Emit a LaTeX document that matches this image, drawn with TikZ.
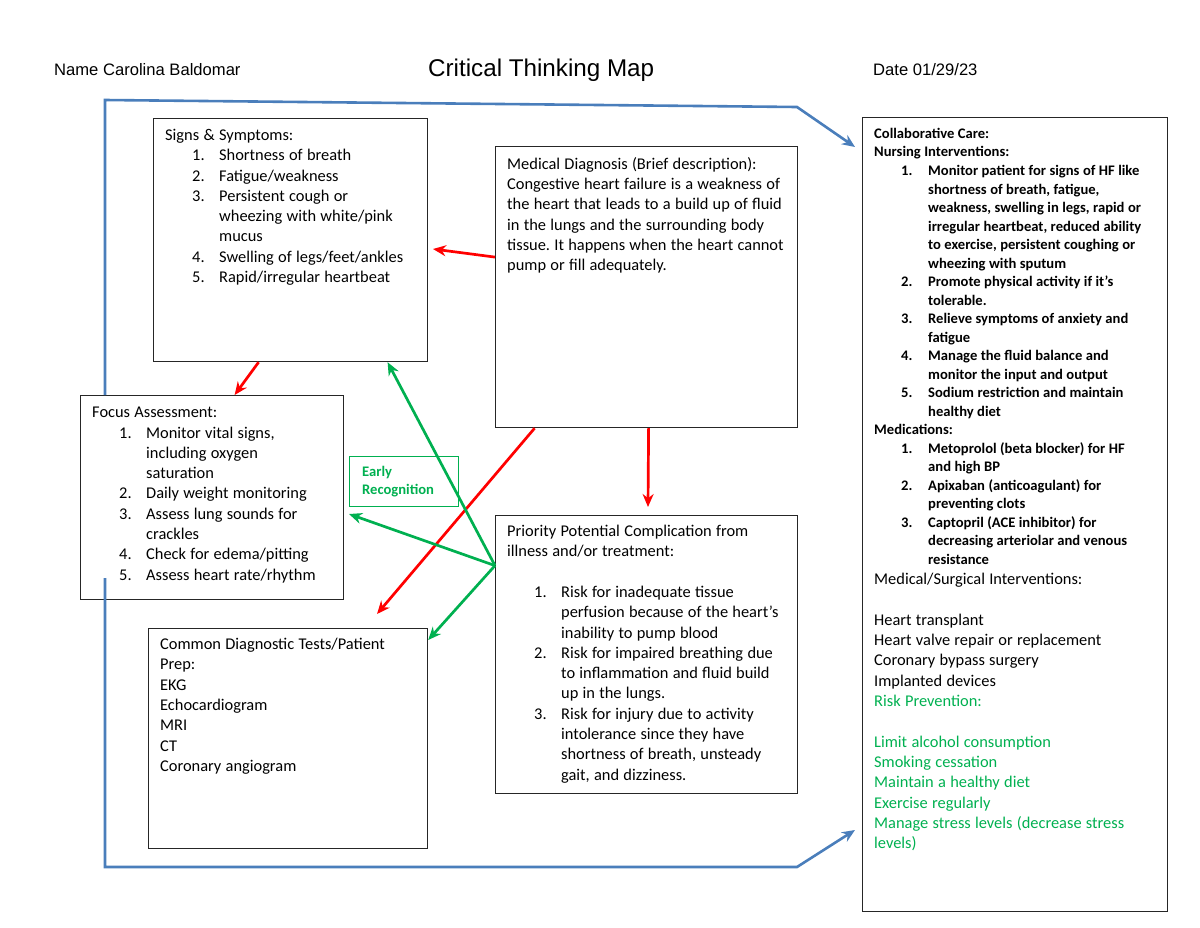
\documentclass[tikz,border=0pt]{standalone}
\usepackage{fontspec}
\setmainfont{Carlito}
\newfontfamily\headfont{Liberation Sans}
\usetikzlibrary{arrows.meta,positioning}
\definecolor{mapgreen}{HTML}{00B050}
\definecolor{mapblue}{HTML}{4A7EBB}
\newcommand{\mapfont}{\frenchspacing\fontsize{16.4}{20.3}\selectfont\spaceskip=4.3pt}
\newcommand{\carefont}{\fontsize{14.6}{18.52}\selectfont\bfseries\spaceskip=3.45pt}
\newcommand{\mapitem}[2]{\par\begingroup\let\\\newline\hangindent=54pt\hangafter=0\leavevmode\llap{\makebox[27pt][l]{#1}}#2\par\endgroup}

\begin{document}
\begin{tikzpicture}[
	x = 1pt, y = -1pt,
	> = {Stealth[length=13pt,width=11pt]},
	mapbox/.style = {draw=black!85, line width=1.2pt, anchor=north west, inner sep=0pt},
	maptext/.style = {anchor=north west, inner sep=0pt, text width=#1, align=flush left, font=\mapfont},
	headtext/.style = {inner sep=0pt, font=\headfont\fontsize{16.6}{20}\selectfont},
	redarrow/.style = {->, red, line width=2.7pt},
	greenarrow/.style = {->, mapgreen, line width=2.7pt},
	bluearrow/.style = {->, mapblue, line width=2.6pt}
	]
	\useasboundingbox (0,0) rectangle (1200,927);
	\node[headtext, anchor=west] (name) at (54,70) {Name Carolina Baldomar};
	\node[headtext, anchor=west, font=\headfont\fontsize{24.2}{28}\selectfont] (title) at (428,70) {Critical Thinking Map};
	\node[headtext, anchor=west] (date) at (873,70) {Date 01/29/23};

	\node[mapbox, minimum width=274pt, minimum height=243pt] (signs) at (153,118) {};
	\node[mapbox, minimum width=302pt, minimum height=281pt] (medical) at (495,146) {};
	\node[mapbox, minimum width=263pt, minimum height=204pt] (focus) at (80,395) {};
	\node[mapbox, draw=mapgreen, minimum width=109pt, minimum height=50pt] (early) at (349,456) {};
	\node[mapbox, minimum width=302pt, minimum height=278pt] (priority) at (495,515) {};
	\node[mapbox, minimum width=279pt, minimum height=220pt] (common) at (148,628) {};
	\node[mapbox, minimum width=305pt, minimum height=794pt] (care) at (862,117) {};

	\node[maptext=255pt] (signstext) at (165,129) {Signs \& Symptoms:
		\mapitem{1.}{Shortness of breath}
		\mapitem{2.}{Fatigue/weakness}
		\mapitem{3.}{Persistent cough or\\wheezing with white/pink\\mucus}
		\mapitem{4.}{Swelling of legs/feet/ankles}
		\mapitem{5.}{Rapid/irregular heartbeat}
	};
	\node[maptext=290pt] (medicaltext) at (507,157) {Medical Diagnosis (Brief description):\\
		Congestive heart failure is a weakness of\\
		the heart that leads to a build up of fluid\\
		in the lungs and the surrounding body\\
		tissue. It happens when the heart cannot\\
		pump or fill adequately.
	};
	\node[maptext=245pt] (focustext) at (92,407) {Focus Assessment:
		\mapitem{1.}{Monitor vital signs,\\including oxygen\\saturation}
		\mapitem{2.}{Daily weight monitoring}
		\mapitem{3.}{Assess lung sounds for\\crackles}
		\mapitem{4.}{Check for edema/pitting}
		\mapitem{5.}{Assess heart rate/rhythm}
	};
	\node[maptext=95pt, font=\fontsize{14.6}{18.1}\selectfont\bfseries, text=mapgreen] (earlytext) at (362,466) {Early\\Recognition};
	\node[maptext=285pt] (prioritytext) at (507,525) {Priority Potential Complication from\\illness and/or treatment:\\\mbox{}
		\mapitem{1.}{Risk for inadequate tissue\\perfusion because of the heart’s\\inability to pump blood}
		\mapitem{2.}{Risk for impaired breathing due\\to inflammation and fluid build\\up in the lungs.}
		\mapitem{3.}{Risk for injury due to activity\\intolerance since they have\\shortness of breath, unsteady\\gait, and dizziness.}
	};
	\node[maptext=260pt] (commontext) at (160,638) {Common Diagnostic Tests/Patient\\
		Prep:\\
		EKG\\
		Echocardiogram\\
		MRI\\
		CT\\
		Coronary angiogram
	};
	\node[maptext=285pt] (caretext) at (874,128) {{\carefont Collaborative Care:\\
		Nursing Interventions:
		\mapitem{1.}{Monitor patient for signs of HF like\\shortness of breath, fatigue,\\weakness, swelling in legs, rapid or\\irregular heartbeat, reduced ability\\to exercise, persistent coughing or\\wheezing with sputum}
		\mapitem{2.}{Promote physical activity if it’s\\tolerable.}
		\mapitem{3.}{Relieve symptoms of anxiety and\\fatigue}
		\mapitem{4.}{Manage the fluid balance and\\monitor the input and output}
		\mapitem{5.}{Sodium restriction and maintain\\healthy diet}
		Medications:
		\mapitem{1.}{Metoprolol (beta blocker) for HF\\and high BP}
		\mapitem{2.}{Apixaban (anticoagulant) for\\preventing clots}
		\mapitem{3.}{Captopril (ACE inhibitor) for\\decreasing arteriolar and venous\\resistance}}
		Medical/Surgical Interventions:\\\mbox{}\\
		Heart transplant\\
		Heart valve repair or replacement\\
		Coronary bypass surgery\\
		Implanted devices\\
		{\color{mapgreen}Risk Prevention:\\\mbox{}\\
		Limit alcohol consumption\\
		Smoking cessation\\
		Maintain a healthy diet\\
		Exercise regularly\\
		Manage stress levels (decrease stress\\
		levels)}
	};

	\coordinate (signstip) at (433,249);
	\coordinate (commontip) at (377,614);
	\coordinate (prioritytip) at (648,507);
	\coordinate (focustip) at (349,514);
	\coordinate (caretop) at (797,107);
	\coordinate (caretoptip) at (855,147);
	\coordinate (carelow) at (797,867);
	\coordinate (carelowtip) at (855,830);

	\path[redarrow]
	([yshift=30pt]medical.west) edge (signstip)
	([xshift=-32pt]signs.south) edge ([xshift=22.5pt]focus.north)
	([xshift=-112pt]medical.south) edge (commontip)
	([xshift=2pt]medical.south) edge (prioritytip);
	\path[greenarrow]
	([yshift=89pt]priority.west) edge ([xshift=97pt]signs.south)
	([yshift=89pt]priority.west) edge (focustip)
	([yshift=89pt]priority.west) edge ([yshift=-12pt]common.north east);
	\draw[bluearrow] ([xshift=25pt]focus.north west) -- (105,100) -- (caretop) -- (caretoptip);
	\draw[bluearrow] ([xshift=25pt,yshift=22pt]focus.south west) -- (105,867) -- (carelow) -- (carelowtip);
\end{tikzpicture}
\end{document}
